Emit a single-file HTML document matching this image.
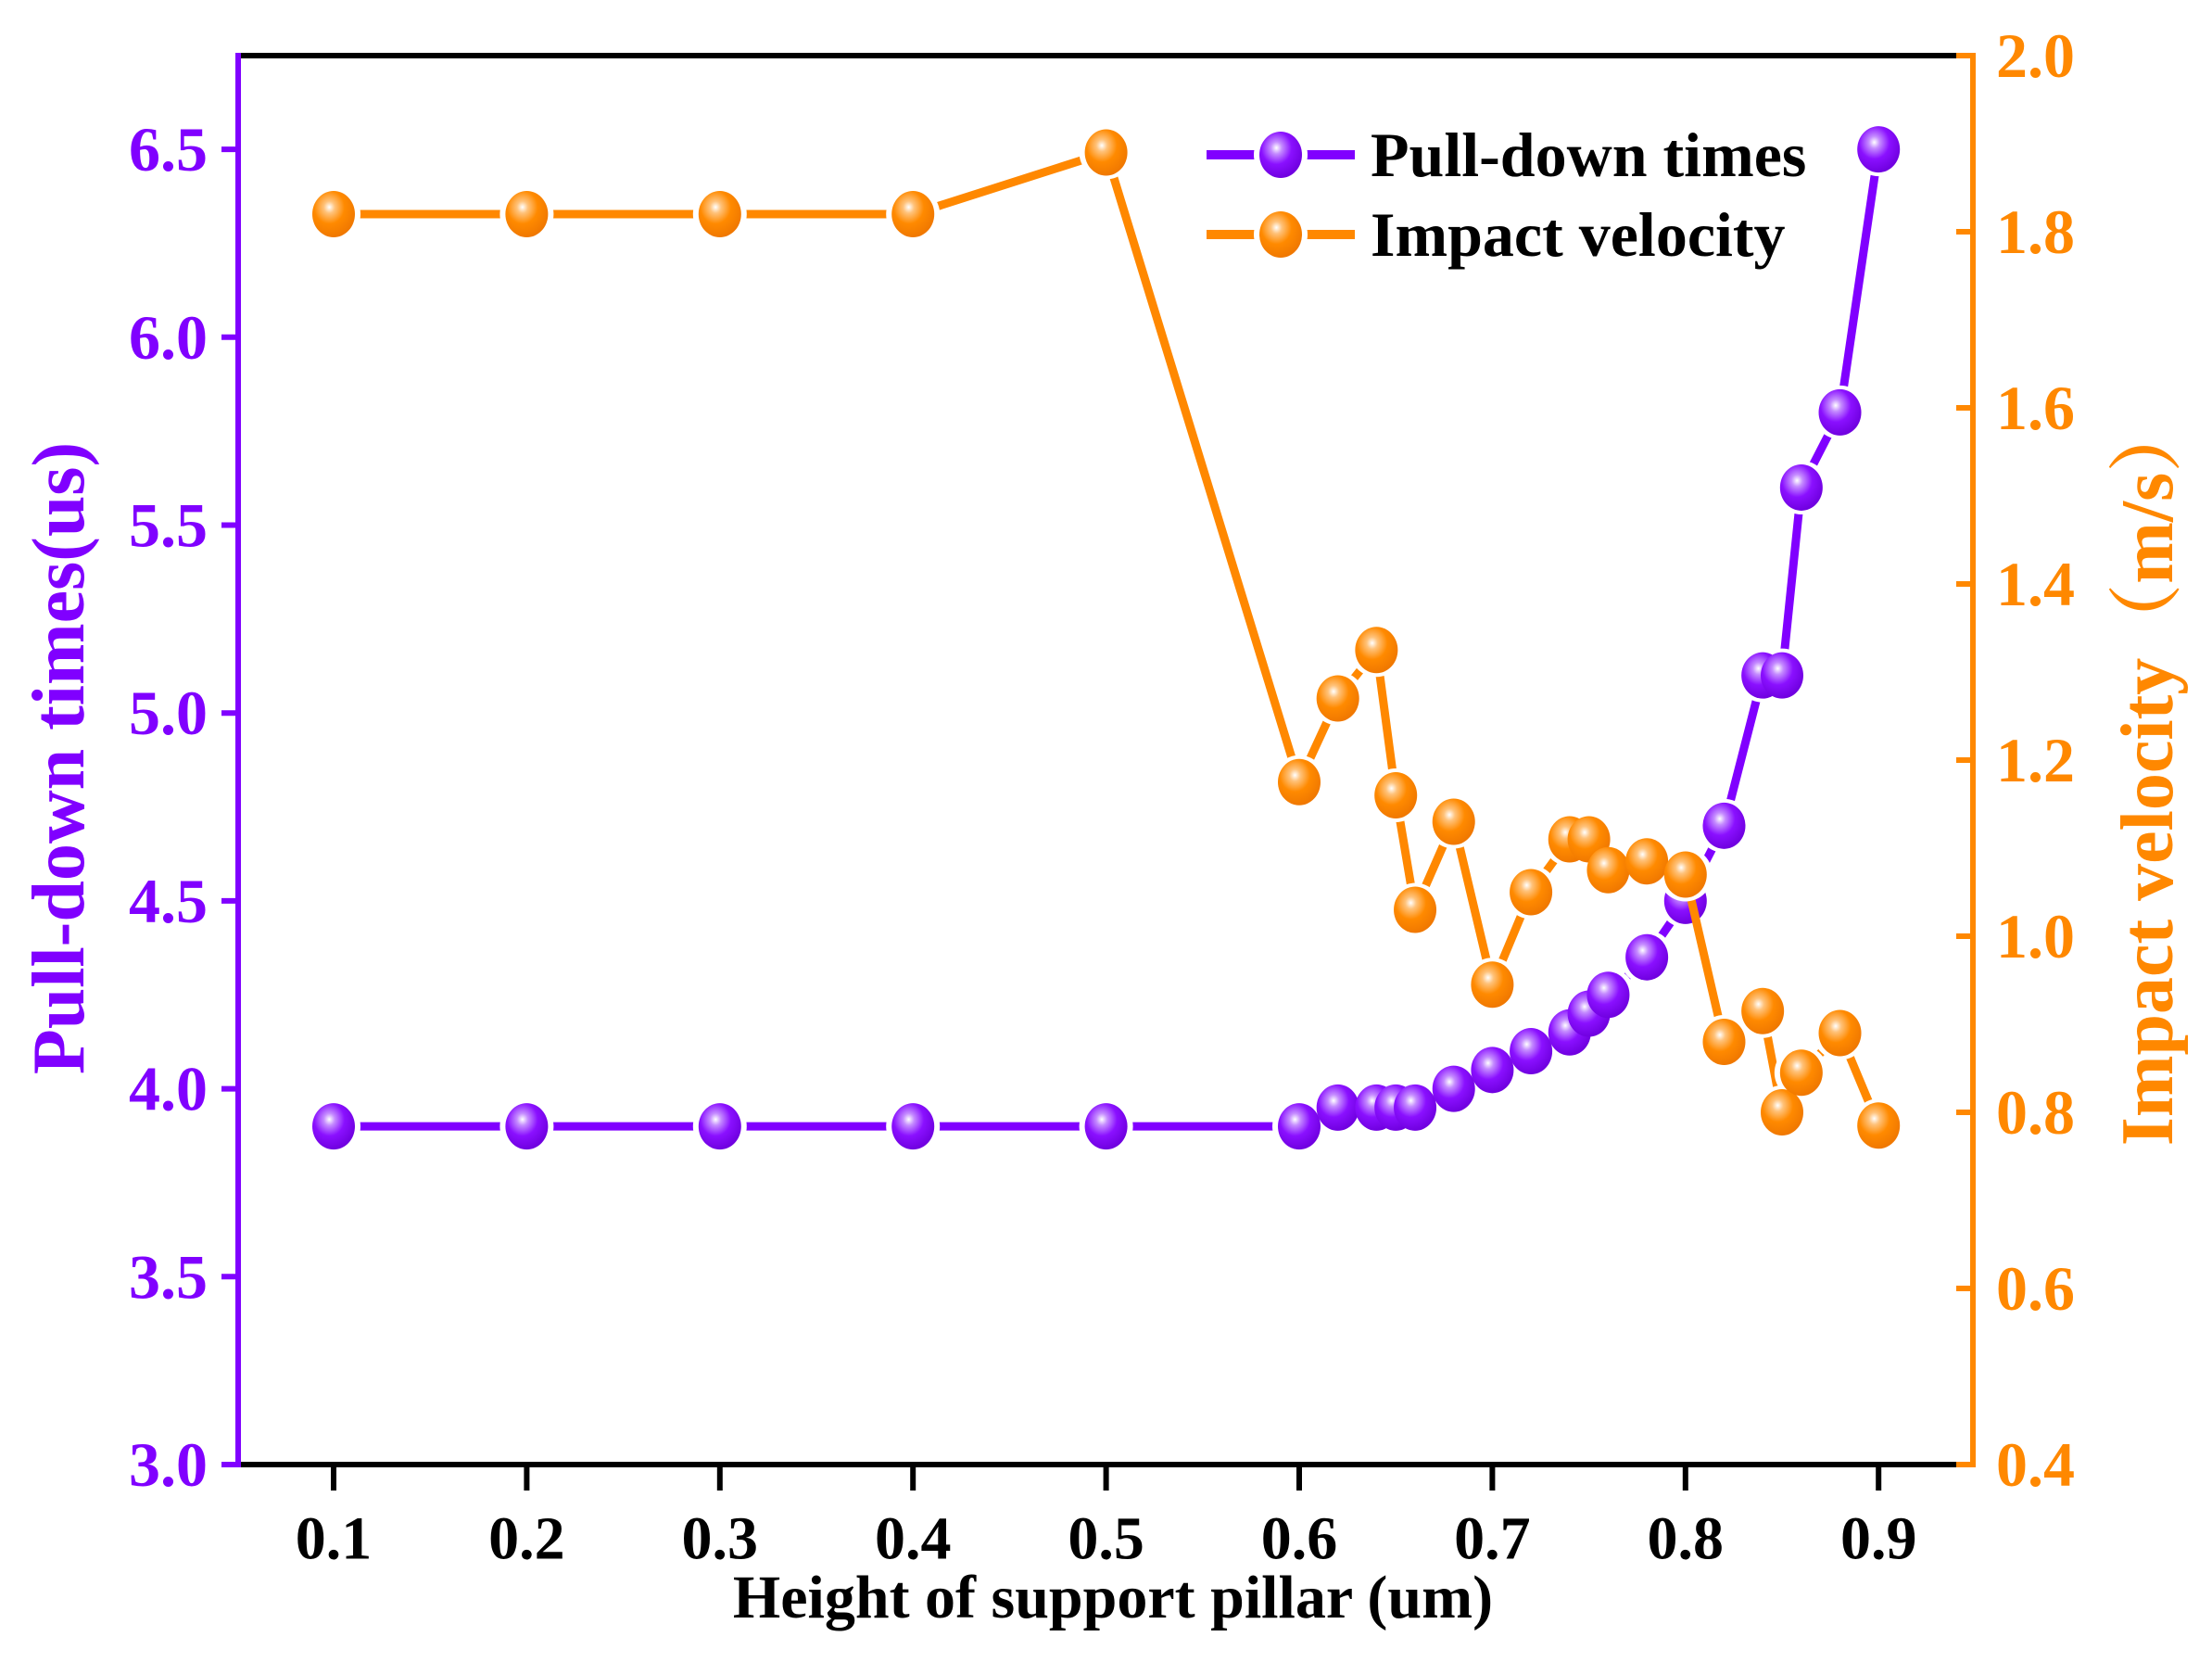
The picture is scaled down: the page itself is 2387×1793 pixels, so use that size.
<!DOCTYPE html>
<html><head><meta charset="utf-8"><style>html,body{margin:0;padding:0;background:#fff}svg{display:block}</style></head>
<body>
<svg width="2387" height="1793" viewBox="0 0 2387 1793" xmlns="http://www.w3.org/2000/svg" font-family="'Liberation Serif', serif" font-weight="bold">
<defs>
<radialGradient id="gp" cx="0.4" cy="0.35" r="0.65">
<stop offset="0" stop-color="#ffffff"/><stop offset="0.2" stop-color="#c58cff"/><stop offset="0.55" stop-color="#8a10ff"/><stop offset="1" stop-color="#7000e0"/>
</radialGradient>
<radialGradient id="go" cx="0.4" cy="0.35" r="0.65">
<stop offset="0" stop-color="#ffffff"/><stop offset="0.2" stop-color="#ffc27a"/><stop offset="0.55" stop-color="#ff8a00"/><stop offset="1" stop-color="#f07800"/>
</radialGradient>
</defs>
<rect width="2387" height="1793" fill="#fff"/>
<g id="plot"></g>
<line x1="257" y1="60" x2="2129" y2="60" stroke="#000" stroke-width="6"/>
<line x1="257" y1="1580" x2="2129" y2="1580" stroke="#000" stroke-width="6"/>
<line x1="257" y1="57" x2="257" y2="1583" stroke="#8000ff" stroke-width="6"/>
<line x1="2129" y1="57" x2="2129" y2="1583" stroke="#ff8800" stroke-width="6"/>
<g id="ticks"></g>
<text x="64" y="818" transform="rotate(-90 64 818)" text-anchor="middle" dominant-baseline="central" font-size="80" fill="#8000ff">Pull-down times(us)</text>
<text x="2318" y="833" transform="rotate(-90 2318 833)" text-anchor="middle" dominant-baseline="central" font-size="80" fill="#ff8800" font-family="'Liberation Serif','Noto Serif CJK SC',serif">Impact velocity（m/s）</text>
<text x="1201" y="1745" text-anchor="middle" font-size="66" fill="#000">Height of support pillar (um)</text>
<line x1="1302" y1="167" x2="1462" y2="167" stroke="#8000ff" stroke-width="10"/>
<circle cx="1382" cy="167" r="29" fill="#fff"/>
<ellipse cx="1382" cy="167" rx="23" ry="25" fill="url(#gp)"/>
<text x="1479" y="190" font-size="68" fill="#000">Pull-down times</text>
<line x1="1302" y1="253" x2="1462" y2="253" stroke="#ff8800" stroke-width="10"/>
<circle cx="1382" cy="253" r="29" fill="#fff"/>
<ellipse cx="1382" cy="253" rx="23" ry="25" fill="url(#go)"/>
<text x="1479" y="276" font-size="68" fill="#000">Impact velocity</text>
</svg>
<script>
(function(){
var NS="http://www.w3.org/2000/svg";
function X(v){return 360+(v-0.1)*2084;}
function YL(v){return 1580-(v-3)*405.4;}
function YR(v){return 1580-(v-0.4)*950;}
var xs=[0.1,0.2,0.3,0.4,0.5,0.6,0.62,0.64,0.65,0.66,0.68,0.70,0.72,0.74,0.75,0.76,0.78,0.80,0.82,0.84,0.85,0.86,0.88,0.90];
var p=[3.9,3.9,3.9,3.9,3.9,3.9,3.95,3.95,3.95,3.95,4.0,4.05,4.1,4.15,4.2,4.25,4.35,4.5,4.7,5.1,5.1,5.6,5.8,6.5];
var o=[1.82,1.82,1.82,1.82,1.89,1.175,1.27,1.325,1.16,1.03,1.13,0.945,1.05,1.11,1.11,1.075,1.085,1.07,0.88,0.915,0.8,0.845,0.89,0.785];
var g=document.getElementById("plot");
function el(n,a,par){var e=document.createElementNS(NS,n);for(var k in a)e.setAttribute(k,a[k]);(par||g).appendChild(e);return e;}
function series(ys,f,col,grad){
 var pts=xs.map(function(x,i){return X(x)+","+f(ys[i]);}).join(" ");
 el("polyline",{points:pts,fill:"none",stroke:col,"stroke-width":9,"stroke-linejoin":"round"});
 xs.forEach(function(x,i){el("circle",{cx:X(x),cy:f(ys[i]),r:29,fill:"#fff"});});
 xs.forEach(function(x,i){el("ellipse",{cx:X(x),cy:f(ys[i]),rx:23,ry:25,fill:"url(#"+grad+")"});});
}
series(p,YL,"#8000ff","gp");
series(o,YR,"#ff8800","go");
var t=document.getElementById("ticks");
for(var v=3;v<=6.51;v+=0.5){var y=YL(v);
 el("line",{x1:239,y1:y,x2:257,y2:y,stroke:"#8000ff","stroke-width":6},t);
 var tx=el("text",{x:224,y:y,"text-anchor":"end","dominant-baseline":"central","font-size":68,fill:"#8000ff"},t);tx.textContent=v.toFixed(1);}
for(var w=0.4;w<=2.01;w+=0.2){var y2=YR(w);
 el("line",{x1:2111,y1:y2,x2:2129,y2:y2,stroke:"#ff8800","stroke-width":6},t);
 var t2=el("text",{x:2154,y:y2,"dominant-baseline":"central","font-size":68,fill:"#ff8800"},t);t2.textContent=w.toFixed(1);}
for(var i=1;i<=9;i++){var x=X(i/10);
 el("line",{x1:x,y1:1580,x2:x,y2:1608,stroke:"#000","stroke-width":6},t);
 var t3=el("text",{x:x,y:1660,"text-anchor":"middle","dominant-baseline":"central","font-size":66,fill:"#000"},t);t3.textContent=(i/10).toFixed(1);}
})();
</script>
</body></html>
